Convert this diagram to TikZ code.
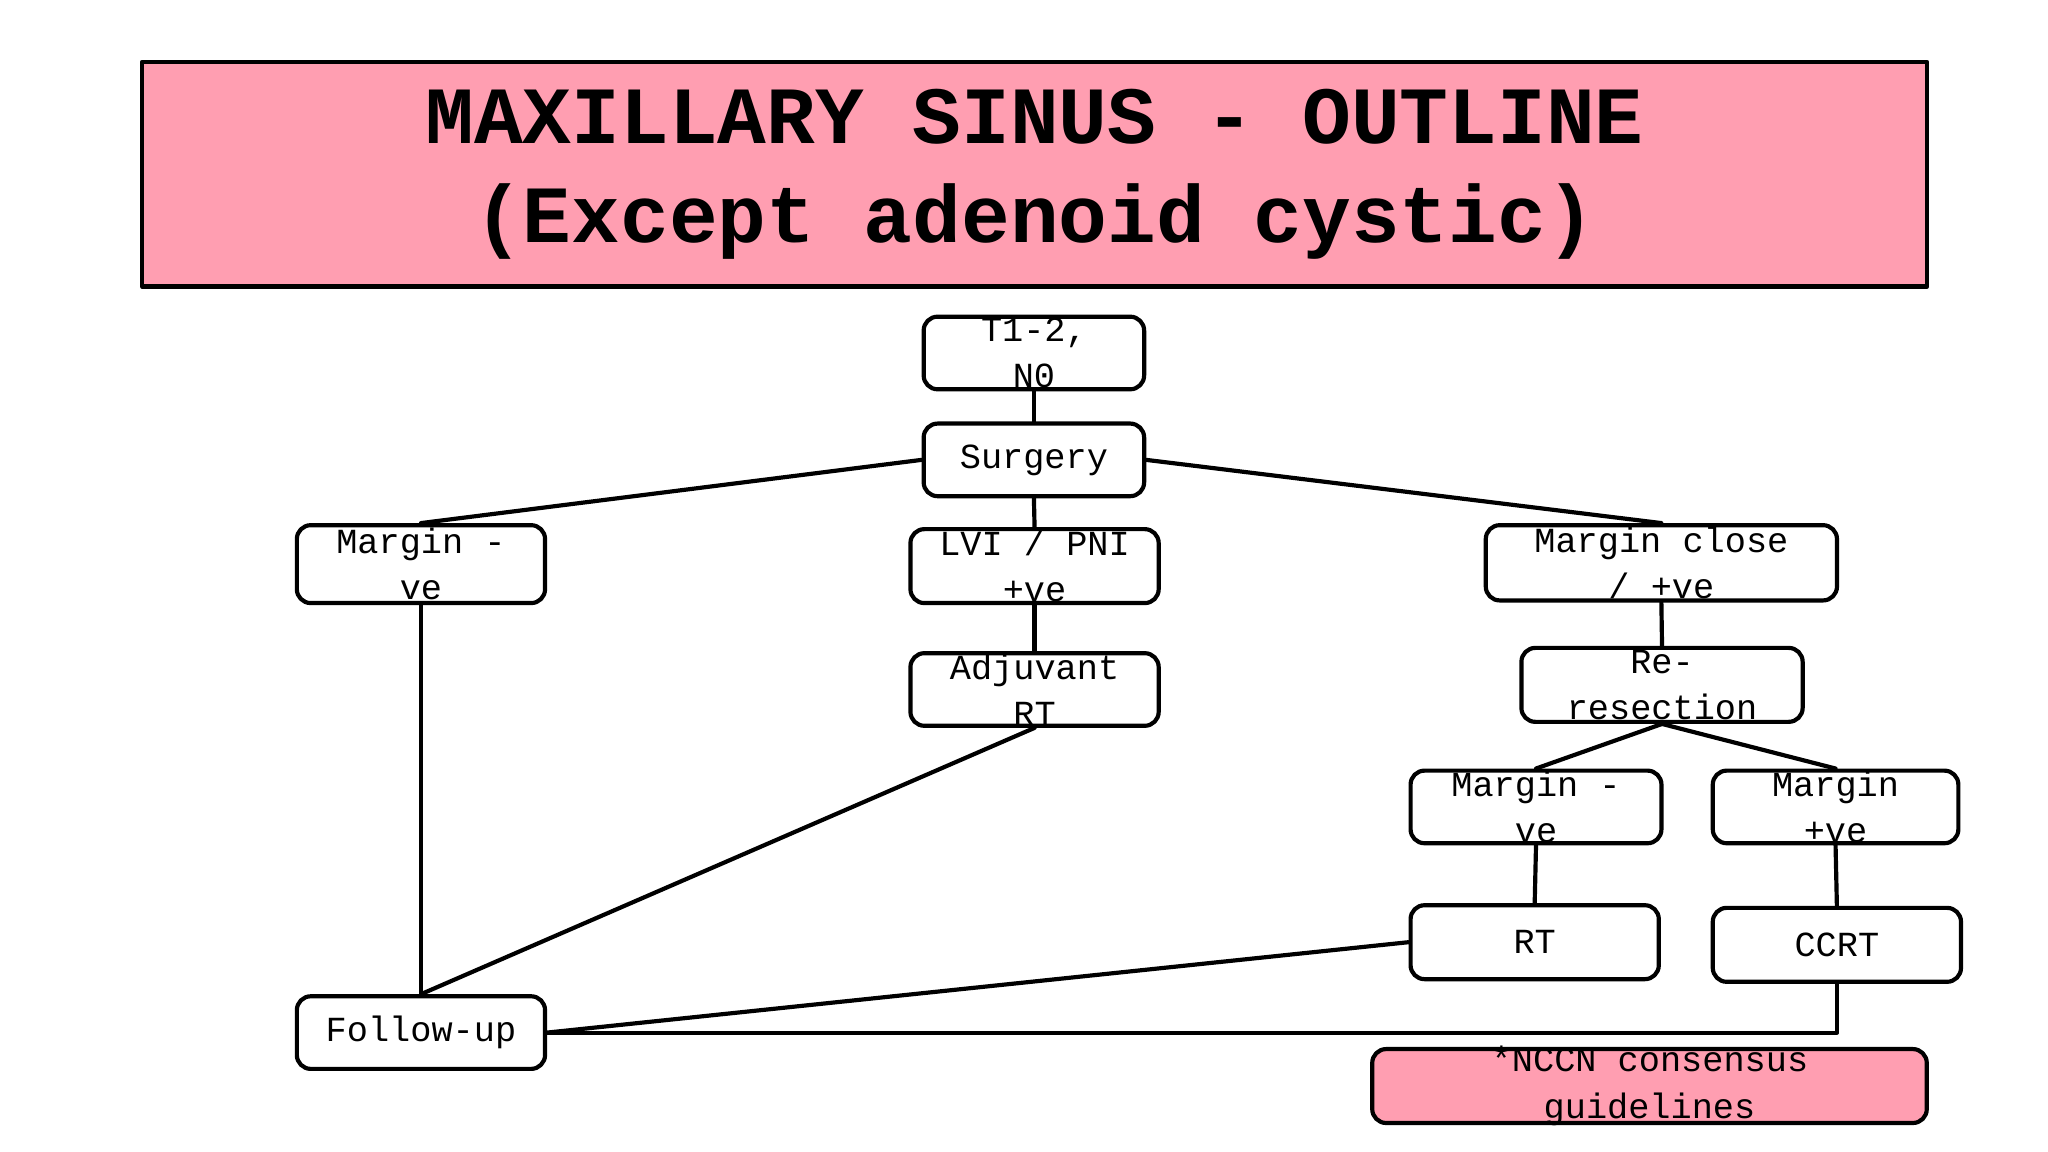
\documentclass[tikz,border=0pt]{standalone}
\usepackage{fontspec}
\setmonofont{Liberation Mono}
\definecolor{pinkfill}{HTML}{FF9EB1}
\begin{document}
\begin{tikzpicture}[x=0.01cm, y=-0.01cm, line width=0.9pt, line cap=round, line join=round]
\tikzset{
  box/.style={draw, rounded corners=3pt, inner sep=0pt, fill=white},
  lbl/.style={font=\ttfamily\fontsize{7.6}{10}\selectfont, align=center, inner sep=0pt}
}
\useasboundingbox (0,0) rectangle (1552,873);

% title
\node[draw, fill=pinkfill, inner sep=0pt, minimum width=13.52cm, minimum height=1.70cm] (title) at (784,132) {};
\node[font=\ttfamily\bfseries\fontsize{17.5}{21.5}\selectfont, align=center] at (title) {MAXILLARY SINUS - OUTLINE\\(Except adenoid cystic)};

% boxes
\node[box, minimum width=1.67cm, minimum height=0.55cm] (t) at (783.5,267.5) {};
\node[box, minimum width=1.67cm, minimum height=0.55cm] (surg) at (783.5,348.5) {};
\node[box, minimum width=1.88cm, minimum height=0.59cm] (mnl) at (319,427.5) {};
\node[box, minimum width=1.88cm, minimum height=0.56cm] (lvi) at (784,429) {};
\node[box, minimum width=2.66cm, minimum height=0.57cm] (mc) at (1259,426.5) {};
\node[box, minimum width=1.88cm, minimum height=0.55cm] (adj) at (784,522.5) {};
\node[box, minimum width=2.13cm, minimum height=0.56cm] (rer) at (1259.5,519) {};
\node[box, minimum width=1.90cm, minimum height=0.55cm] (mnr) at (1164,611.5) {};
\node[box, minimum width=1.86cm, minimum height=0.55cm] (mp) at (1391,611.5) {};
\node[box, minimum width=1.88cm, minimum height=0.56cm] (rt) at (1163,714) {};
\node[box, minimum width=1.88cm, minimum height=0.56cm] (ccrt) at (1392,716) {};
\node[box, minimum width=1.88cm, minimum height=0.55cm] (fu) at (319,782.5) {};
\node[box, fill=pinkfill, minimum width=4.20cm, minimum height=0.56cm] (nccn) at (1250,823) {};

% labels
\node[lbl] at (t) {T1-2,\\N0};
\node[lbl] at (surg) {Surgery};
\node[lbl] at (mnl) {Margin -\\ve};
\node[lbl] at (lvi) {LVI / PNI\\+ve};
\node[lbl] at (mc) {Margin close\\/ +ve};
\node[lbl] at (adj) {Adjuvant\\RT};
\node[lbl] at (rer) {Re-\\resection};
\node[lbl] at (mnr) {Margin -\\ve};
\node[lbl] at (mp) {Margin\\+ve};
\node[lbl] at (rt) {RT};
\node[lbl] at (ccrt) {CCRT};
\node[lbl] at (fu) {Follow-up};
\node[lbl] at (nccn) {*NCCN consensus\\guidelines};

% connectors
\draw (t.south) -- (surg.north);
\draw (surg.west) -- (mnl.north);
\draw (surg.east) -- (mc.north);
\draw (surg.south) -- (lvi.north);
\draw (lvi.south) -- (adj.north);
\draw (mc.south) -- (rer.north);
\draw (rer.south) -- (mnr.north);
\draw (rer.south) -- (mp.north);
\draw (mnr.south) -- (rt.north);
\draw (mp.south) -- (ccrt.north);
\draw (mnl.south) -- (fu.north);
\draw (adj.south) -- (fu.north);
\draw (rt.west) -- (fu.east);
\draw (ccrt.south) |- (fu.east);
\end{tikzpicture}
\end{document}
